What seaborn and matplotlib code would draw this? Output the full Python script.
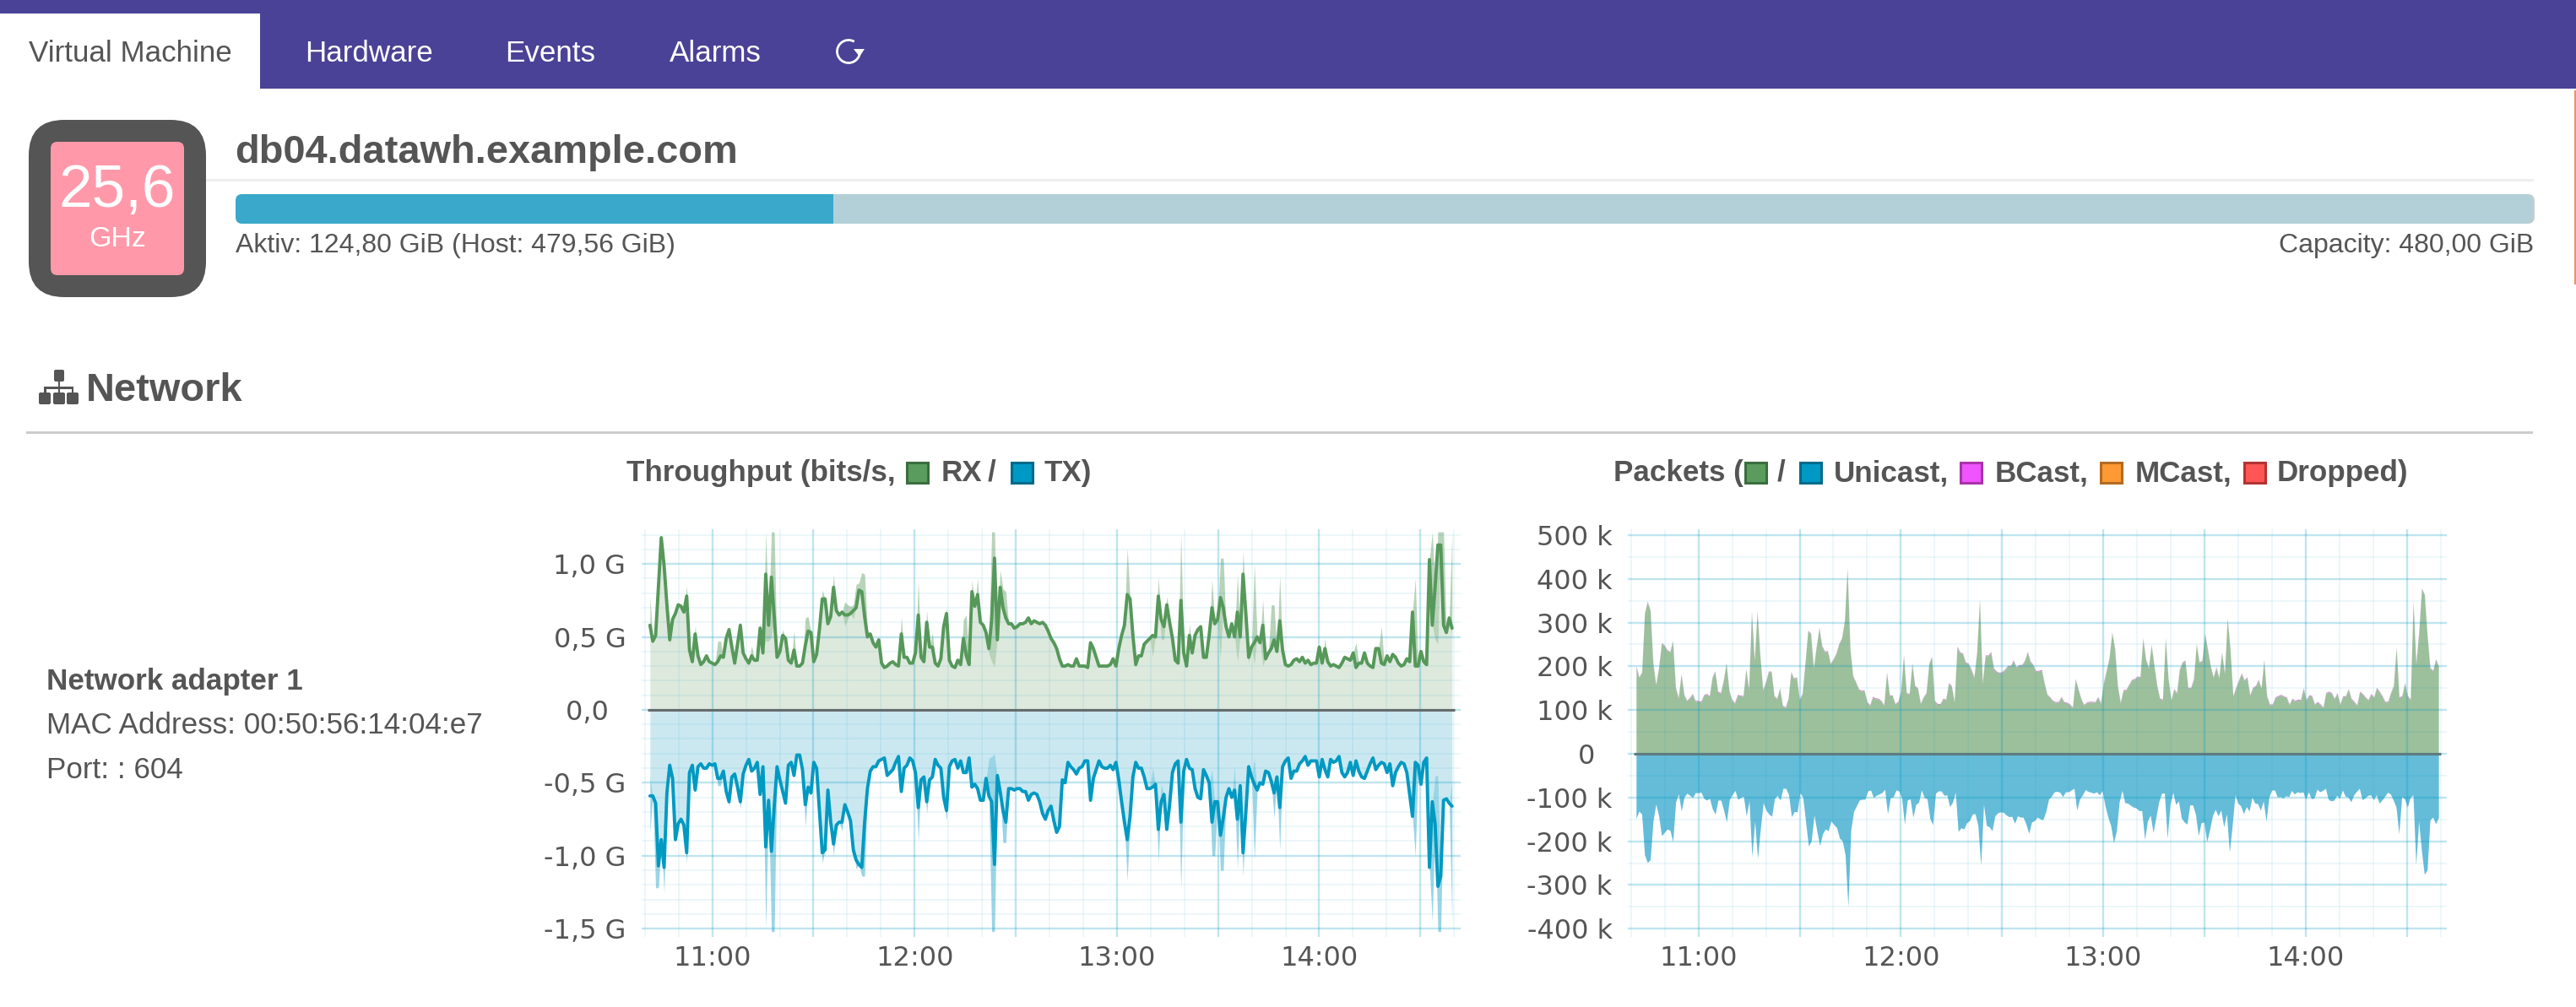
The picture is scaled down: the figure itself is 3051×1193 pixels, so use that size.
import numpy as np
import seaborn as sns
import matplotlib
matplotlib.use("Agg")
import matplotlib.pyplot as plt
from matplotlib.patches import Rectangle, FancyBboxPatch, Arc, Polygon

# time range of the samples, minutes since midnight
t_start = 641.5
t_end = 879.4

# Throughput, Gbit/s
rx_gbps = [
    .58, .47, .51, .84, 1.18, .99, .72, .48, .62, .66, .72, .71, .67, .78, .41, .33, .52, .37, .31, .33,
    .37, .33, .32, .31, .33, .37, .36, .49, .55, .43, .32, .45, .58, .39, .35, .32, .37, .34, .34, .56,
    .39, .93, .58, .91, .64, .36, .40, .51, .49, .34, .32, .41, .30, .30, .32, .44, .54, .53, .33, .38,
    .55, .76, .76, .59, .64, .84, .68, .65, .67, .65, .65, .66, .68, .70, .82, .81, .64, .50, .52, .46,
    .43, .48, .32, .29, .30, .32, .33, .31, .30, .52, .36, .36, .32, .32, .39, .65, .36, .33, .60, .43,
    .43, .32, .30, .35, .57, .66, .34, .30, .29, .34, .31, .49,
    .37, .31, .81, .71, .79, .60, .58, .53, .42, .62, 1.04, .48, .84, .70, .63, .59, .59, .56, .57, .59,
    .59, .60, .63, .59, .61, .60, .59, .60, .58, .54, .49, .46, .42, .35, .30, .30, .31, .30, .30, .35,
    .30, .30, .30, .29, .46, .42, .36, .30, .30, .30, .30, .31, .35, .30, .42, .51, .58, .79, .76, .51,
    .31, .37, .37, .45, .47, .49, .51, .50, .78, .62, .57, .72, .60, .49, .34, .32, .75, .39, .30, .51,
    .39, .51, .55, .57, .36, .36, .51, .70, .59, .62, .77, .70, .57, .50, .59, .50, .67, .50, .93, .66,
    .36, .43, .46, .50, .46, .58, .35, .39, .42, .48, .40, .61, .41, .31, .30, .31, .34, .35, .33, .36,
    .32, .34, .31, .32, .32, .43, .32, .42, .33, .30, .31, .30, .29, .32, .36, .35, .34, .39, .29, .32,
    .32, .39, .32, .30, .29, .42, .42, .32, .31, .37, .33, .38, .36, .32, .30, .31, .35, .33, .67, .30,
    .30, .40, .33, .31, 1.03, .58, .84, 1.13, 1.13, .58, .53, .63, .56,
]
tx_gbps = [
    -.59, -.59, -.64, -1.07, -.89, -1.08, -.57, -.38, -.47, -.89, -.78, -.75, -.79, -.98, -.43, -.38, -.55, -.39, -.37, -.40,
    -.40, -.37, -.38, -.37, -.47, -.47, -.42, -.56, -.63, -.46, -.44, -.53, -.63, -.44, -.38, -.34, -.42, -.40, -.36, -.58,
    -.39, -.94, -.62, -.97, -.66, -.39, -.48, -.56, -.64, -.38, -.36, -.45, -.31, -.31, -.41, -.65, -.53, -.57, -.36, -.40,
    -.69, -.98, -.96, -.55, -.77, -.92, -.79, -.77, -.77, -.65, -.70, -.76, -.96, -1.03, -1.06, -1.08, -.77, -.54, -.42, -.39,
    -.39, -.35, -.34, -.33, -.45, -.43, -.41, -.36, -.32, -.56, -.40, -.38, -.33, -.35, -.43, -.67, -.48, -.46, -.63, -.48,
    -.46, -.34, -.38, -.40, -.60, -.69, -.39, -.35, -.34, -.40, -.35, -.43,
    -.43, -.33, -.53, -.51, -.54, -.62, -.62, -.47, -.59, -.63, -1.06, -.45, -.56, -.69, -.77, -.54, -.54, -.55, -.54, -.54,
    -.56, -.56, -.62, -.58, -.57, -.58, -.63, -.71, -.75, -.69, -.66, -.76, -.84, -.80, -.48, -.50, -.36, -.39, -.41, -.44,
    -.40, -.39, -.35, -.35, -.62, -.47, -.41, -.35, -.39, -.40, -.40, -.38, -.41, -.36, -.48, -.63, -.77, -.89, -.73, -.46,
    -.36, -.40, -.40, -.46, -.54, -.54, -.53, -.51, -.82, -.63, -.58, -.82, -.65, -.43, -.37, -.35, -.77, -.42, -.34, -.40,
    -.41, -.54, -.60, -.61, -.41, -.45, -.50, -.77, -.63, -.63, -.86, -.74, -.60, -.54, -.60, -.55, -.75, -.52, -.98, -.70,
    -.39, -.46, -.51, -.55, -.50, -.51, -.42, -.43, -.49, -.57, -.46, -.67, -.39, -.35, -.33, -.47, -.42, -.42, -.37, -.35,
    -.32, -.38, -.35, -.35, -.35, -.46, -.34, -.41, -.46, -.34, -.36, -.35, -.32, -.43, -.46, -.43, -.36, -.45, -.35, -.42,
    -.46, -.47, -.42, -.37, -.33, -.41, -.38, -.36, -.37, -.43, -.37, -.52, -.43, -.39, -.36, -.37, -.43, -.58, -.73, -.36,
    -.38, -.51, -.36, -.33, -1.08, -.63, -.78, -1.21, -1.14, -.62, -.61, -.64, -.66,
]

# min/max band around the lines, given where it leaves the line (sample index, value)
rx_peak_idx = [0, 4, 13, 16, 24, 25, 28, 32, 36, 39, 41, 43, 44, 47, 51, 55, 56, 61, 65, 69, 70, 71, 72, 73, 74, 75, 76, 77,
               89, 95, 98, 100, 105, 111, 112, 114, 116, 121, 122, 124, 125, 126, 169, 180, 183, 188, 191, 199, 202, 203,
               208, 210, 214, 217, 220, 221, 223, 239, 250, 259, 271, 277, 279, 280, 281, 284]
rx_peak_val = [.78, 1.2, .85, .58, .47, .47, .56, .60, .44, .60, 1.22, 1.22, 1.22, .55, .54, .63, .64, .82, .93, .74, .72, .71, .72, .86, .87, .94, .93, .55,
               .64, .88, .68, .53, .70, .62, .65, .89, .90, 1.22, 1.22, .96, .83, .81, 1.11, .91, .78, 1.21, .59, .89, 1.04, 1.04,
               .93, 1.09, 1.0, .76, .72, .72, .92, .49, .46, .57, .90, 1.22, 1.22, 1.22, 1.22, 1.22]
rx_dip_idx = [7, 41, 42, 43, 69, 70, 72, 120, 121, 122, 178, 181, 182, 202, 208, 212, 214, 217, 278, 279, 284]
rx_dip_val = [.43, .47, .47, .50, .57, .62, .62, .38, .33, .29, .36, .48, .48, .33, .32, .31, .30, .30, .48, .45, .49]
tx_peak_idx = [0, 2, 3, 5, 13, 24, 25, 28, 32, 41, 43, 44, 55, 61, 65, 68, 73, 75, 76, 95, 98, 105,
               121, 122, 125, 126, 169, 180, 188, 199, 200, 202, 203, 208, 210, 214, 221, 223, 271, 277, 279, 280, 284]
tx_peak_val = [-.84, -1.22, -1.22, -1.25, -1.05, -.52, -.52, -.66, -.68, -1.5, -1.52, -1.52, -.80, -1.05, -1.0, -.83, -1.09, -1.14, -1.14, -.90, -.71, -.76,
               -1.52, -1.52, -.91, -.91, -1.17, -1.04, -1.22, -1.0, -1.0, -1.10, -1.10, -1.09, -1.14, -1.02, -.74, -.96, -1.0, -1.45, -1.52, -1.52, -1.46]
tx_dip_idx = [0, 7, 120, 121, 122, 178, 181, 199, 207, 212, 214, 278, 279, 284]
tx_dip_val = [-.45, -.34, -.33, -.32, -.30, -.39, -.50, -.40, -.38, -.35, -.32, -.45, -.45, -.48]

# Packets, thousands per second
pkt_rx = [
    199, 174, 185, 321, 347, 327, 205, 157, 195, 252, 247, 236, 232, 257, 150, 127, 181, 134, 120, 127,
    136, 120, 120, 118, 133, 136, 131, 173, 188, 141, 138, 167, 206, 144, 122, 115, 134, 132, 131, 192,
    147, 324, 212, 324, 224, 145, 163, 187, 187, 131, 125, 149, 109, 105, 125, 186, 171, 174, 123, 136,
    205, 280, 274, 195, 244, 287, 245, 233, 234, 205, 215, 228, 250, 263, 302, 423, 237, 176, 163, 147,
    143, 144, 118, 110, 129, 126, 125, 120, 110, 185, 133, 132, 113, 118, 141, 224, 138, 136, 205, 154,
    149, 114, 128, 138, 205, 221, 120, 113, 113, 125, 123, 161, 154, 118, 244,
    231, 228, 208, 205, 192, 174, 231, 352, 161, 224, 224, 232, 194, 187, 184, 186, 192, 200, 200, 213,
    197, 202, 202, 212, 232, 210, 202, 188, 189, 191, 160, 134, 128, 120, 117, 118, 129, 117, 116, 112,
    105, 170, 147, 125, 111, 116, 118, 118, 117, 129, 115, 160, 189, 218, 276, 240, 154, 116, 145, 145,
    157, 168, 170, 176, 174, 263, 215, 195, 248, 199, 154, 125, 123, 264, 170, 122, 147, 138, 192, 208,
    212, 150, 150, 170, 250, 208, 212, 273, 237, 199, 174, 197, 173, 231, 183, 308, 237, 131, 150, 167,
    183, 167, 174, 133, 150, 154, 168, 149, 213, 131, 112, 112, 128, 131, 134, 130, 128, 112, 125, 120,
    123, 122, 149, 122, 133, 131, 112, 118, 112, 105, 138, 141, 138, 125, 138, 112, 130, 131, 147, 125,
    118, 110, 141, 136, 128, 122, 136, 128, 150, 141, 131, 118, 118, 138, 154, 242, 128, 131, 161, 131,
    123, 348, 205, 276, 377, 363, 269, 195, 189, 215, 199,
]
pkt_tx = [
    -148, -131, -138, -231, -249, -242, -154, -115, -142, -187, -180, -172, -175, -201, -110, -92, -131, -99, -90, -95,
    -100, -89, -89, -88, -102, -106, -102, -126, -138, -106, -106, -129, -156, -105, -94, -84, -104, -100, -97, -142,
    -108, -235, -154, -239, -171, -112, -129, -138, -143, -102, -95, -106, -79, -79, -94, -144, -132, -133, -89, -99,
    -154, -211, -199, -140, -177, -210, -183, -172, -176, -154, -162, -169, -193, -199, -231, -349, -174, -132, -119, -106,
    -104, -104, -85, -83, -100, -95, -92, -89, -81, -137, -100, -99, -83, -85, -100, -161, -106, -103, -145, -116,
    -111, -83, -100, -103, -148, -162, -90, -85, -85, -95, -94, -121, -111, -88, -178, -169, -172, -158, -153, -138,
    -137, -164, -255, -116, -164, -167, -176, -142, -135, -133, -134, -140, -144, -143, -159, -142, -145, -145, -161, -182,
    -156, -153, -145, -149, -151,
    -133, -104, -97, -87, -86, -88, -98, -87, -87, -83, -79, -129, -103, -94, -82, -86, -88, -90, -87, -94,
    -84, -119, -145, -164, -203, -177, -110, -84, -112, -113, -118, -122, -124, -130, -130, -196, -154, -140, -180, -145,
    -110, -90, -90, -193, -116, -88, -116, -108, -147, -156, -161, -117, -117, -138, -187, -158, -156, -201, -174, -142,
    -127, -142, -129, -167, -137, -225, -164, -94, -113, -119, -137, -121, -131, -99, -113, -114, -129, -108, -154, -99,
    -83, -83, -99, -98, -101, -96, -98, -84, -92, -87, -89, -87, -104, -87, -103, -101, -81, -87, -84, -79,
    -104, -108, -106, -95, -102, -83, -97, -99, -110, -94, -86, -79, -105, -101, -95, -94, -105, -94, -113, -106,
    -97, -88, -92, -106, -122, -183, -98, -103, -122, -100, -94, -254, -154, -222, -276, -265, -151, -145, -160, -146,
]
pkt_other = 2.0  # bcast/mcast/dropped on top of unicast, barely visible

# memory bar
mem_active = 124.80
mem_capacity = 480.00

# axis ticks
time_ticks = [660, 690, 720, 750, 780, 810, 840, 870]
time_labels = ['11:00', '', '12:00', '', '13:00', '', '14:00', '']
time_minor = [640, 650, 670, 680, 700, 710, 730, 740, 760, 770, 790, 800, 820, 830, 850, 860, 880]
gbps_ticks = [1.0, 0.5, 0.0, -0.5, -1.0, -1.5]
gbps_labels = ['1,0 G', '0,5 G', '0,0  ', '-0,5 G', '-1,0 G', '-1,5 G']
gbps_minor = [1.2, 1.1, 0.9, 0.8, 0.7, 0.6, 0.4, 0.3, 0.2, 0.1, -0.1, -0.2, -0.3, -0.4, -0.6, -0.7, -0.8, -0.9, -1.1, -1.2, -1.3, -1.4]
pkt_ticks = [500, 400, 300, 200, 100, 0, -100, -200, -300, -400]
pkt_labels = ['500 k', '400 k', '300 k', '200 k', '100 k', '0  ', '-100 k', '-200 k', '-300 k', '-400 k']
pkt_minor = [450, 350, 250, 150, 50, -50, -150, -250, -350]

W, H = 3051, 1193
GREY = '#555555'
GREEN = '#56985a'
BLUE = '#0099c2'

sns.set_style("white")
plt.rcParams['font.family'] = ['Liberation Sans', 'DejaVu Sans']

fig = plt.figure(figsize=(W / 100, H / 100), dpi=100, facecolor='white')

# page around the charts, in pixel coordinates
page = fig.add_axes([0, 0, 1, 1])
page.set_xlim(0, W)
page.set_ylim(H, 0)
page.axis('off')


def box(x0, y0, x1, y1, color, r=0, **kw):
    if r:
        p = FancyBboxPatch((x0 + r, y0 + r), x1 - x0 - 2 * r, y1 - y0 - 2 * r,
                           boxstyle=f"round,pad={r},rounding_size={r}", fc=color, ec='none', **kw)
    else:
        p = Rectangle((x0, y0), x1 - x0, y1 - y0, fc=color, ec='none', **kw)
    page.add_patch(p)


def label(x, y, s, px=35, color=GREY, weight='normal', ha='left'):
    page.text(x, y, s, fontsize=px * 0.72, color=color, fontweight=weight, ha=ha, va='baseline')


def swatch(x0, y0, x1, y1, fill, edge):
    page.add_patch(Rectangle((x0 + 1.5, y0 + 1.5), x1 - x0 - 3, y1 - y0 - 3, fc=fill, ec=edge, lw=2.2))


# nav bar
box(0, 0, W, 105, '#4a4296')
box(0, 16, 308, 105, 'white')
label(34, 73, 'Virtual Machine')
label(361, 73, 'Hardware', color='white')
label(598, 73, 'Events', color='white')
label(793, 73, 'Alarms', color='white')
page.add_patch(Arc((1005, 61), 27, 27, theta1=0, theta2=300, color='white', lw=2))
page.add_patch(Polygon([[1011, 58], [1024, 58], [1018, 67]], fc='white', ec='none'))
box(3049, 107, 3051, 337, '#f09060')

# gauge
box(34, 142, 244, 352, GREY, r=42)
box(60, 168, 218, 326, '#ff99aa', r=8)
label(139, 245, '25,6', px=71, color='white', ha='center')
label(139, 292, 'GHz', px=34, color='white', ha='center')

# host name and memory bar
label(278, 193, 'db04.datawh.example.com', px=47, weight='bold')
box(244, 211.5, 3001, 214.5, '#eeeeee')
bar_x0, bar_x1 = 279, 3002
box(bar_x1 - 40, 230, bar_x1, 265, '#cccccc', r=8)
box(bar_x0, 230, bar_x1 - 2, 265, '#b3d0d8', r=8)
bar_mid = bar_x0 + (bar_x1 - bar_x0) * mem_active / mem_capacity
box(bar_x0, 230, bar_x0 + 30, 265, '#3aa8cb', r=8)
box(bar_x0 + 10, 230, bar_mid, 265, '#3aa8cb')
label(279, 299, 'Aktiv: 124,80 GiB (Host: 479,56 GiB)', px=32)
label(3001, 299, 'Capacity: 480,00 GiB', px=32, ha='right')

# section header with sitemap icon
box(64, 438, 76, 452, GREY, r=2)
box(68.5, 452, 71, 465, GREY)
box(52, 458, 87, 460.5, GREY)
box(52, 458, 54.5, 465, GREY)
box(84.5, 458, 87, 465, GREY)
box(46, 465, 60, 479, GREY, r=2)
box(63, 465, 77, 479, GREY, r=2)
box(79, 465, 93, 479, GREY, r=2)
label(102, 475, 'Network', px=47, weight='bold')
box(31, 510.5, 3000, 513.5, '#cccccc')

# adapter text
label(55, 817, 'Network adapter 1', weight='bold')
label(55, 869, 'MAC Address: 00:50:56:14:04:e7')
label(55, 922, 'Port: : 604')

# chart titles with colour keys
label(742, 570, 'Throughput (bits/s,', px=35, weight='bold')
swatch(1072, 546, 1100, 573, '#5a9c5e', '#3a6e3e')
label(1115, 570, 'RX', px=35, weight='bold')
label(1170, 570, '/', px=35, weight='bold')
swatch(1196, 546, 1224, 573, '#0099c6', '#006a8a')
label(1237, 570, 'TX)', px=35, weight='bold')

label(1911, 570, 'Packets (', px=35, weight='bold')
swatch(2065, 546, 2093, 573, '#5a9c5e', '#3a6e3e')
label(2105, 570, '/', px=35, weight='bold')
swatch(2130, 546, 2158, 573, '#0099c6', '#006a8a')
label(2172, 570, 'Unicast,', px=35, weight='bold')
swatch(2320, 546, 2348, 573, '#ee55ff', '#aa33aa')
label(2363, 570, 'BCast,', px=35, weight='bold')
swatch(2486, 546, 2514, 573, '#ff9933', '#b36b22')
label(2529, 570, 'MCast,', px=35, weight='bold')
swatch(2656, 546, 2684, 573, '#ff5555', '#b33333')
label(2697, 570, 'Dropped)', px=35, weight='bold')


def chart_axes(x0, x1, y0, y1, xlim, ylim, yticks, ylabels, yminor):
    ax = fig.add_axes([x0 / W, 1 - y1 / H, (x1 - x0) / W, (y1 - y0) / H])
    ax.patch.set_alpha(0)
    ax.set_xlim(*xlim)
    ax.set_ylim(*ylim)
    ax.set_xticks(time_ticks)
    ax.set_xticklabels(time_labels)
    ax.set_xticks(time_minor, minor=True)
    ax.set_yticks(yticks)
    ax.set_yticklabels(ylabels)
    ax.set_yticks(yminor, minor=True)
    ax.tick_params(axis='both', which='both', length=0)
    ax.tick_params(axis='x', which='major', labelsize=23, labelcolor=GREY, pad=7)
    ax.tick_params(axis='y', which='major', labelsize=23, labelcolor=GREY, pad=13.5)
    for t in ax.get_xticklabels() + ax.get_yticklabels():
        t.set_family('DejaVu Sans')
    for t in ax.get_yticklabels():
        t.set_verticalalignment('center_baseline')
    ax.grid(True, which='major', color=BLUE, alpha=0.25, lw=1.7)
    ax.grid(True, which='minor', color=BLUE, alpha=0.07, lw=1.4)
    ax.set_axisbelow(False)
    sns.despine(ax=ax, left=True, bottom=True)
    return ax


def with_band(values, idx, vals):
    out = np.array(values, dtype=float)
    out[idx] = vals
    return out


# throughput chart
ax1 = chart_axes(760, 1730, 627, 1110, (639.04, 881.96), (-1.557, 1.238), gbps_ticks, gbps_labels, gbps_minor)
rx = np.array(rx_gbps)
tx = np.array(tx_gbps)
t_rx = np.linspace(t_start, t_end, len(rx))
t_tx = np.linspace(t_start, t_end, len(tx))
rx_hi = np.maximum(with_band(rx, rx_peak_idx, rx_peak_val), rx)
rx_lo = np.minimum(with_band(rx, rx_dip_idx, rx_dip_val), rx)
tx_deep = np.minimum(with_band(tx, tx_peak_idx, tx_peak_val), tx)
tx_shallow = np.maximum(with_band(tx, tx_dip_idx, tx_dip_val), tx)
ax1.fill_between(t_rx, 0, rx_lo, color='#dde9dd', lw=0, zorder=1)
ax1.fill_between(t_rx, rx_lo, rx_hi, color='#b9d3b9', lw=0, zorder=1)
ax1.fill_between(t_tx, 0, tx_shallow, color='#cbe8f1', lw=0, zorder=1)
ax1.fill_between(t_tx, tx_shallow, tx_deep, color='#9ad5e6', lw=0, zorder=1)
sns.lineplot(x=t_rx, y=rx, color=GREEN, linewidth=2.8, zorder=3, ax=ax1)
sns.lineplot(x=t_tx, y=tx, color=BLUE, linewidth=2.8, zorder=3, ax=ax1)
ax1.hlines(0, t_start - 0.7, t_end + 0.7, color='#666c6c', lw=2.2, zorder=4)

# packets chart
ax2 = chart_axes(1928.4, 2897.7, 627, 1110, (639.15, 881.8), (-418.9, 513.5), pkt_ticks, pkt_labels, pkt_minor)
prx = np.array(pkt_rx, dtype=float)
ptx = np.array(pkt_tx, dtype=float)
t_prx = np.linspace(t_start, t_end, len(prx))
t_ptx = np.linspace(t_start, t_end, len(ptx))
ax2.fill_between(t_prx, prx, prx + pkt_other, color='#cf7fd0', lw=0, zorder=1)
ax2.fill_between(t_prx, 0, prx, color='#9cbf9c', lw=0, zorder=1)
ax2.fill_between(t_ptx, 0, ptx, color='#64bcd9', lw=0, zorder=1)
ax2.hlines(0, t_start - 0.7, t_end + 0.7, color='#5f7a80', lw=2.2, zorder=4)

fig.savefig('out.png', dpi=100)
